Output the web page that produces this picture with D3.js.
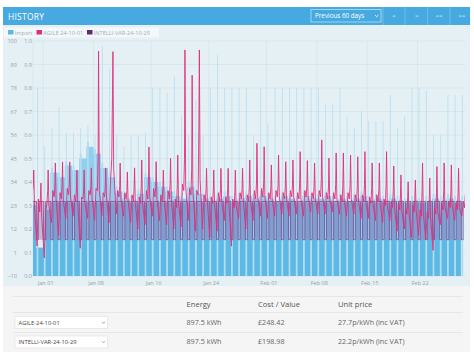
<!DOCTYPE html>
<html>
<head>
<meta charset="utf-8">
<script src="https://cdn.jsdelivr.net/npm/d3@7"></script>
<style>
  body { margin: 0; background: #fff; font-family: "Open Sans", sans-serif; }
  svg { display: block; }
</style>
</head>
<body>
<svg id="chart" width="474" height="352"></svg>
<script>
// one value per day, Dec 30 .. Feb 28
const agileLow = [20, 4, -1.5, 15, 9, 17, 18, 3, 17, 16, 18, 15, 19, 18, 15, 12, 14, 18, 16, 14, 12, 13, 16, 11, 12, 8, 11, 16, 4, 17, 12, 16, 18, 17, 18, 19, 18, 19, 18, 20, 19, 19, 20, 19, 18, 19, 17, 17, 16, 15, 16, 11, 12, 8, 9, 7, 2, 14, 17, 16, 18];
const agileMorn = [24, 26, 20, 30, 29, 31, 28, 27, 30, 31, 29, 33, 30, 29, 28, 27, 30, 31, 28, 30, 26, 33, 31, 30, 28, 27, 29, 27, 26, 29, 28, 30, 31, 29, 30, 29, 30, 29, 30, 29, 30, 29, 29, 28, 29, 28, 28, 27, 28, 26, 25, 24, 22, 23, 21, 20, 22, 24, 25, 24, 25];
const agileDay = [30, 20, 24, 27, 26, 28, 25, 26, 28, 30, 27, 45, 27, 26, 25, 24, 26, 27, 25, 26, 22, 30, 28, 28, 25, 24, 25, 24, 22, 26, 25, 26, 27, 26, 27, 26, 27, 26, 27, 26, 27, 26, 26, 25, 26, 25, 25, 24, 25, 23, 22, 21, 19, 20, 18, 17, 19, 21, 22, 21, 22];
const agileShoulder = [32, 28, 30, 32, 33, 33, 31, 31, 32, 45, 32, 75, 32, 30, 31, 33, 35, 32, 31, 33, 33, 45, 40, 62, 31, 30, 31, 31, 30, 31, 32, 34, 34, 32, 33, 32, 33, 34, 33, 32, 35, 32, 33, 33, 33, 32, 33, 31, 31, 33, 30, 28, 27, 27, 30, 27, 29, 30, 30, 29, 28];
const agilePeak = [39.6, 33.5, 39.6, 42.9, 43.4, 43.4, 39.6, 39.6, 40.6, 95.3, 40.6, 95, 42.9, 38.7, 40.6, 44.3, 50.4, 43.5, 39.6, 45.1, 46.6, 95.8, 84, 95.8, 40.4, 39.6, 40.4, 40.4, 39.6, 40.4, 44.3, 52.1, 50.5, 42, 46.6, 43.5, 44.3, 48.2, 44, 42.9, 53.7, 45.2, 47.6, 47.6, 46.6, 45.8, 48.2, 42.9, 42.9, 48.2, 41.5, 37.3, 34.1, 34.9, 42.9, 35.9, 41.2, 42.9, 42, 40.4, 29.5];
const agileEve = [22, 18, 23, 26, 25, 27, 25, 24, 26, 30, 27, 40, 26, 25, 24, 24, 27, 26, 25, 26, 24, 32, 30, 35, 25, 24, 25, 24, 23, 25, 25, 27, 27, 26, 27, 26, 27, 26, 27, 26, 27, 26, 26, 25, 26, 25, 25, 24, 24, 23, 22, 21, 20, 21, 19, 18, 20, 22, 23, 22, 22];

const importBase = [0.30, 0.12, 0.28, 0.44, 0.42, 0.47, 0.45, 0.50, 0.55, 0.52, 0.46, 0.42, 0.36, 0.33, 0.32, 0.35, 0.42, 0.40, 0.38, 0.36, 0.34, 0.33, 0.38, 0.35, 0.33, 0.32, 0.33, 0.34, 0.32, 0.33, 0.34, 0.33, 0.34, 0.33, 0.32, 0.34, 0.33, 0.32, 0.34, 0.33, 0.33, 0.34, 0.32, 0.33, 0.32, 0.33, 0.34, 0.32, 0.33, 0.32, 0.33, 0.32, 0.31, 0.32, 0.31, 0.32, 0.33, 0.32, 0.33, 0.32, 0.32];
const importPeak = [0.40, 0.80, 0.55, 0.63, 0.72, 0.61, 0.61, 0.63, 0.64, 0.60, 0.98, 0.88, 0.60, 0.55, 0.60, 0.60, 0.61, 0.80, 0.80, 0.78, 0.85, 0.68, 0.60, 0.75, 0.60, 0.80, 0.94, 0.80, 0.80, 0.80, 0.80, 0.60, 0.80, 0.65, 0.80, 0.80, 0.80, 0.80, 0.80, 0.80, 0.80, 0.73, 0.73, 0.80, 0.68, 0.63, 0.70, 0.66, 0.66, 0.66, 0.77, 0.63, 0.68, 0.80, 0.80, 0.79, 0.60, 0.60, 0.77, 0.77, 0.77];

const intelliPeak = 24.9;
const intelliOff = 7.0;
const offPeakHours = [2, 8];
const importDense = 0.31; // top of the solid import band

const priceTicks = [-10, 1, 12, 23, 34, 45, 56, 67, 78, 89, 100];
const kwhTicks = [0, 0.1, 0.2, 0.3, 0.4, 0.5, 0.6, 0.7, 0.8, 0.9, 1.0];
const dateTicks = ['2025-01-01', '2025-01-08', '2025-01-16', '2025-01-24', '2025-02-01', '2025-02-08', '2025-02-15', '2025-02-22'];

const summary = [
  { tariff: 'AGILE-24-10-01', energy: '897.5 kWh', cost: '£248.42', unit: '27.7p/kWh (inc VAT)' },
  { tariff: 'INTELLI-VAR-24-10-29', energy: '897.5 kWh', cost: '£198.98', unit: '22.2p/kWh (inc VAT)' }
];

const colImport = '#5db8e4';
const colImportLight = '#92cfee';
const colAgile = '#df2f7c';
const colIntelli = '#5e2a72';

const day0 = Date.UTC(2024, 11, 30);
const at = (d, h) => new Date(day0 + d * 864e5 + h * 36e5);

const svg = d3.select('#chart');
const plot = { l: 33, r: 465, t: 41, b: 276 };

// panels
svg.append('rect').attr('x', 3).attr('y', 7).attr('width', 467).attr('height', 18).attr('fill', '#46a9df');
svg.append('rect').attr('x', 3).attr('y', 25).attr('width', 467).attr('height', 261).attr('fill', '#e5f0f5');
svg.append('rect').attr('x', 3).attr('y', 286).attr('width', 467).attr('height', 66).attr('fill', '#f5f5f5');

// header
svg.append('text').attr('x', 8).attr('y', 19.8).attr('fill', '#fff').attr('font-size', 8.4)
  .attr('letter-spacing', 0.3).text('HISTORY');
svg.append('rect').attr('x', 311).attr('y', 9.5).attr('width', 70).attr('height', 12.5)
  .attr('fill', 'none').attr('stroke', 'rgba(255,255,255,0.7)').attr('stroke-width', 0.7);
svg.append('text').attr('x', 315).attr('y', 18).attr('fill', '#fff').attr('font-size', 6.3).text('Previous 60 days');
svg.append('path').attr('d', 'M375,15 l1.7,1.7 l1.7,-1.7').attr('fill', 'none').attr('stroke', '#fff').attr('stroke-width', 0.8);
[383, 405, 427.7, 450].forEach(x => {
  svg.append('line').attr('x1', x).attr('x2', x).attr('y1', 7).attr('y2', 25)
    .attr('stroke', 'rgba(255,255,255,0.3)').attr('stroke-width', 0.8);
});
[['<', 394], ['>', 416.7], ['<<', 439.3], ['>>', 461.7]].forEach(([s, x]) => {
  svg.append('text').attr('x', x).attr('y', 18).attr('text-anchor', 'middle').attr('fill', '#fff')
    .attr('font-size', 6).text(s);
});

// scales
const x = d3.scaleUtc().domain([at(0, 14), at(60, 14)]).range([plot.l, plot.r]);
const yP = d3.scaleLinear().domain([-10, 100]).range([plot.b, plot.t]);
const yK = d3.scaleLinear().domain([0, 1]).range([plot.b, plot.t]);

// grid
const grid = svg.append('g').attr('stroke', '#d2e3ea').attr('stroke-width', 0.7);
priceTicks.forEach(v => grid.append('line').attr('x1', plot.l).attr('x2', plot.r).attr('y1', yP(v)).attr('y2', yP(v)));
dateTicks.forEach(s => {
  const xx = x(new Date(s + 'T00:00:00Z'));
  grid.append('line').attr('x1', xx).attr('x2', xx).attr('y1', plot.t).attr('y2', plot.b);
});
grid.append('line').attr('x1', plot.l).attr('x2', plot.l).attr('y1', plot.t).attr('y2', plot.b);

svg.append('clipPath').attr('id', 'clip').append('rect')
  .attr('x', plot.l).attr('y', plot.t - 2).attr('width', plot.r - plot.l).attr('height', plot.b - plot.t + 2);
const g = svg.append('g').attr('clip-path', 'url(#clip)');

const days = d3.range(agilePeak.length);

// import: light upper part, solid band below
const importPts = days.map(d => ({ t: at(d, 0), v: importBase[d] }));
const importArea = d3.area().curve(d3.curveStepAfter).x(d => x(d.t)).y0(yK(0));
g.append('path').datum(importPts).attr('fill', colImportLight)
  .attr('d', importArea.y1(d => yK(d.v)));
g.append('path').datum(importPts).attr('fill', colImport)
  .attr('d', importArea.y1(d => yK(Math.min(d.v, importDense))));

days.forEach(d => {
  const x0 = x(at(d, offPeakHours[0])), x1 = x(at(d, offPeakHours[1]));
  g.append('rect').attr('x', x0).attr('width', x1 - x0)
    .attr('y', yK(importBase[d] + 0.02)).attr('height', yK(0) - yK(importBase[d] + 0.02))
    .attr('fill', '#a9dbf0');
  g.append('rect').attr('x', (x0 + x1) / 2 - 0.4).attr('width', 0.8)
    .attr('y', yK(importPeak[d])).attr('height', yK(0) - yK(importPeak[d]))
    .attr('fill', '#b3dff2');
});

// intelli-var step
const intelliPts = [{ t: at(-1, offPeakHours[1]), v: intelliPeak }];
days.forEach(d => {
  intelliPts.push({ t: at(d, offPeakHours[0]), v: intelliOff });
  intelliPts.push({ t: at(d, offPeakHours[1]), v: intelliPeak });
});
g.append('path').datum(intelliPts)
  .attr('fill', 'rgba(165,128,188,0.5)')
  .attr('d', d3.area().curve(d3.curveStepAfter).x(d => x(d.t)).y0(yP(intelliOff)).y1(d => yP(d.v)));
g.append('path').datum(intelliPts)
  .attr('fill', 'none').attr('stroke', colIntelli).attr('stroke-width', 0.7).attr('stroke-opacity', 0.85)
  .attr('d', d3.line().curve(d3.curveStepAfter).x(d => x(d.t)).y(d => yP(d.v)));

// agile
const agilePts = [];
days.forEach(d => {
  agilePts.push({ t: at(d, 3.5), v: agileLow[d] });
  agilePts.push({ t: at(d, 8), v: agileMorn[d] });
  agilePts.push({ t: at(d, 12.5), v: agileDay[d] });
  agilePts.push({ t: at(d, 15), v: agileShoulder[d] });
  agilePts.push({ t: at(d, 16.5), v: agilePeak[d] });
  agilePts.push({ t: at(d, 19), v: agileEve[d] });
});
g.append('path').datum(agilePts)
  .attr('fill', 'none').attr('stroke', colAgile).attr('stroke-width', 1).attr('stroke-opacity', 0.9)
  .attr('stroke-linejoin', 'round')
  .attr('d', d3.line().x(d => x(d.t)).y(d => yP(d.v)));

// axes
const axisTxt = { fill: '#9aa3a8', size: 5.6 };
const outer = svg.append('g').attr('transform', `translate(17,0)`)
  .call(d3.axisLeft(yP).tickValues(priceTicks).tickSize(0).tickPadding(0));
const inner = svg.append('g').attr('transform', `translate(32,0)`)
  .call(d3.axisLeft(yK).tickValues(kwhTicks).tickSize(0).tickPadding(0).tickFormat(d3.format('.1f')));
const xa = svg.append('g').attr('transform', `translate(2,${plot.b + 1})`)
  .call(d3.axisBottom(x).tickValues(dateTicks.map(s => new Date(s + 'T00:00:00Z')))
    .tickSize(0).tickPadding(4).tickFormat(d3.utcFormat('%b %d')));
[outer, inner, xa].forEach(a => {
  a.select('.domain').remove();
  a.selectAll('text').attr('fill', axisTxt.fill).attr('font-size', axisTxt.size)
    .attr('font-family', '"Open Sans", sans-serif');
});

// legend
svg.append('rect').attr('x', 4).attr('y', 27.5).attr('width', 155).attr('height', 10).attr('fill', '#f3f8fa');
const legend = [['Import', colImport, 8], ['AGILE-24-10-01', colAgile, 36.5], ['INTELLI-VAR-24-10-29', colIntelli, 87]];
legend.forEach(([name, c, lx]) => {
  svg.append('rect').attr('x', lx).attr('y', 30).attr('width', 5.5).attr('height', 4.5).attr('fill', c);
  svg.append('text').attr('x', lx + 6.8).attr('y', 34.7).attr('fill', '#a6aeb3').attr('font-size', 5.6).text(name);
});

// summary table
[296.5, 312.5, 332.5].forEach(y => {
  svg.append('line').attr('x1', 13).attr('x2', 463).attr('y1', y).attr('y2', y)
    .attr('stroke', '#e2e2e2').attr('stroke-width', 0.8);
});
const cols = [186.5, 258, 338];
['Energy', 'Cost / Value', 'Unit price'].forEach((h, i) => {
  svg.append('text').attr('x', cols[i]).attr('y', 307).attr('fill', '#555').attr('font-size', 7.6).text(h);
});
summary.forEach((row, i) => {
  const ry = [316.5, 336][i];
  svg.append('rect').attr('x', 15).attr('y', ry).attr('width', 92.5).attr('height', 12)
    .attr('fill', '#fff').attr('stroke', '#dedede').attr('stroke-width', 0.6);
  svg.append('text').attr('x', 18.5).attr('y', ry + 8.2).attr('fill', '#444').attr('font-size', 5.8).text(row.tariff);
  svg.append('path').attr('d', `M${102},${ry + 5.3} l1.5,1.5 l1.5,-1.5`).attr('fill', 'none')
    .attr('stroke', '#777').attr('stroke-width', 0.7);
  [row.energy, row.cost, row.unit].forEach((v, j) => {
    svg.append('text').attr('x', cols[j]).attr('y', ry + 8.3).attr('fill', '#666').attr('font-size', 7.2).text(v);
  });
});
</script>
</body>
</html>
